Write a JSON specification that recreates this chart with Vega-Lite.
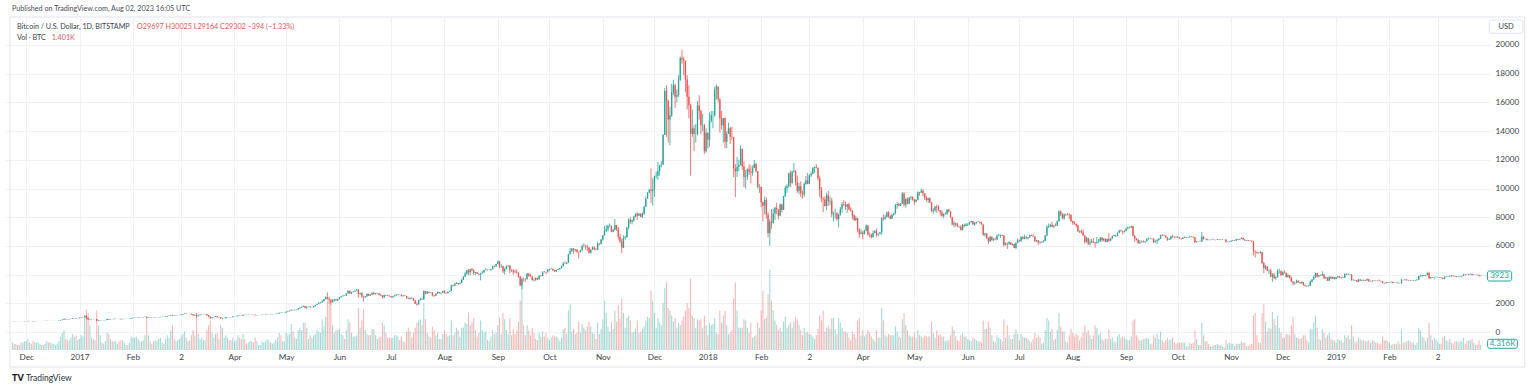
{
"$schema":"https://vega.github.io/schema/vega-lite/v6.json",
"width":1485,"height":333,"autosize":"none",
"padding":{"left":5,"top":17,"right":46,"bottom":38},
"background":"#ffffff",
"config":{"view":{"stroke":null},"font":"Lato","text":{"font":"Lato"},"axis":{"domain":false,"ticks":false,"labelFont":"Lato","labelFontSize":8.2,"labelColor":"#3b3f4a","gridColor":"#eef1f6","gridWidth":1}},
"datasets":{"btc":[
{"d":"2016-11-23","o":738,"h":748,"l":733,"c":741,"v":6},
{"d":"2016-11-24","o":741,"h":744,"l":728,"c":735,"v":5},
{"d":"2016-11-25","o":735,"h":742,"l":731,"c":740,"v":5},
{"d":"2016-11-26","o":740,"h":741,"l":728,"c":733,"v":4},
{"d":"2016-11-27","o":733,"h":738,"l":727,"c":730,"v":4},
{"d":"2016-11-28","o":730,"h":739,"l":729,"c":735,"v":6},
{"d":"2016-11-29","o":735,"h":738,"l":730,"c":733,"v":6},
{"d":"2016-11-30","o":733,"h":748,"l":732,"c":745,"v":7},
{"d":"2016-12-01","o":745,"h":757,"l":743,"c":755,"v":7},
{"d":"2016-12-02","o":755,"h":778,"l":753,"c":770,"v":9},
{"d":"2016-12-03","o":770,"h":772,"l":758,"c":765,"v":6},
{"d":"2016-12-04","o":765,"h":769,"l":760,"c":765,"v":5},
{"d":"2016-12-05","o":765,"h":767,"l":750,"c":755,"v":7},
{"d":"2016-12-06","o":755,"h":763,"l":753,"c":760,"v":6},
{"d":"2016-12-07","o":760,"h":768,"l":757,"c":765,"v":6},
{"d":"2016-12-08","o":765,"h":773,"l":762,"c":770,"v":6},
{"d":"2016-12-09","o":770,"h":774,"l":767,"c":771,"v":5},
{"d":"2016-12-10","o":771,"h":777,"l":769,"c":775,"v":4},
{"d":"2016-12-11","o":775,"h":777,"l":766,"c":770,"v":4},
{"d":"2016-12-12","o":770,"h":778,"l":768,"c":775,"v":5},
{"d":"2016-12-13","o":775,"h":786,"l":773,"c":780,"v":7},
{"d":"2016-12-14","o":780,"h":783,"l":773,"c":778,"v":6},
{"d":"2016-12-15","o":778,"h":782,"l":774,"c":780,"v":6},
{"d":"2016-12-16","o":780,"h":787,"l":778,"c":785,"v":5},
{"d":"2016-12-17","o":785,"h":793,"l":782,"c":790,"v":5},
{"d":"2016-12-18","o":790,"h":794,"l":786,"c":790,"v":4},
{"d":"2016-12-19","o":790,"h":795,"l":786,"c":792,"v":5},
{"d":"2016-12-20","o":792,"h":803,"l":790,"c":800,"v":7},
{"d":"2016-12-21","o":800,"h":835,"l":798,"c":830,"v":11},
{"d":"2016-12-22","o":830,"h":872,"l":826,"c":860,"v":14},
{"d":"2016-12-23","o":860,"h":925,"l":858,"c":915,"v":16},
{"d":"2016-12-24","o":915,"h":918,"l":882,"c":895,"v":9},
{"d":"2016-12-25","o":895,"h":900,"l":858,"c":890,"v":8},
{"d":"2016-12-26","o":890,"h":910,"l":885,"c":905,"v":8},
{"d":"2016-12-27","o":905,"h":935,"l":898,"c":925,"v":10},
{"d":"2016-12-28","o":925,"h":978,"l":922,"c":970,"v":13},
{"d":"2016-12-29","o":970,"h":978,"l":955,"c":970,"v":11},
{"d":"2016-12-30","o":970,"h":972,"l":920,"c":955,"v":12},
{"d":"2016-12-31","o":955,"h":968,"l":950,"c":965,"v":8},
{"d":"2017-01-01","o":965,"h":1002,"l":960,"c":998,"v":9},
{"d":"2017-01-02","o":998,"h":1030,"l":990,"c":1015,"v":12},
{"d":"2017-01-03","o":1015,"h":1035,"l":1008,"c":1030,"v":11},
{"d":"2017-01-04","o":1030,"h":1150,"l":1025,"c":1130,"v":28},
{"d":"2017-01-05","o":1130,"h":1140,"l":880,"c":990,"v":33},
{"d":"2017-01-06","o":990,"h":1000,"l":830,"c":890,"v":30},
{"d":"2017-01-07","o":890,"h":910,"l":820,"c":900,"v":20},
{"d":"2017-01-08","o":900,"h":935,"l":880,"c":910,"v":10},
{"d":"2017-01-09","o":910,"h":915,"l":878,"c":900,"v":9},
{"d":"2017-01-10","o":900,"h":912,"l":888,"c":905,"v":8},
{"d":"2017-01-11","o":905,"h":920,"l":750,"c":780,"v":32},
{"d":"2017-01-12","o":780,"h":815,"l":760,"c":810,"v":20},
{"d":"2017-01-13","o":810,"h":835,"l":795,"c":825,"v":12},
{"d":"2017-01-14","o":825,"h":835,"l":810,"c":820,"v":6},
{"d":"2017-01-15","o":820,"h":828,"l":808,"c":825,"v":5},
{"d":"2017-01-16","o":825,"h":835,"l":815,"c":830,"v":7},
{"d":"2017-01-17","o":830,"h":905,"l":828,"c":900,"v":14},
{"d":"2017-01-18","o":900,"h":910,"l":850,"c":870,"v":13},
{"d":"2017-01-19","o":870,"h":900,"l":865,"c":895,"v":9},
{"d":"2017-01-20","o":895,"h":897,"l":880,"c":890,"v":7},
{"d":"2017-01-21","o":890,"h":924,"l":888,"c":920,"v":7},
{"d":"2017-01-22","o":920,"h":935,"l":900,"c":920,"v":7},
{"d":"2017-01-23","o":920,"h":925,"l":910,"c":920,"v":5},
{"d":"2017-01-24","o":920,"h":922,"l":890,"c":915,"v":7},
{"d":"2017-01-25","o":915,"h":918,"l":882,"c":890,"v":8},
{"d":"2017-01-26","o":890,"h":918,"l":888,"c":915,"v":8},
{"d":"2017-01-27","o":915,"h":920,"l":905,"c":915,"v":6},
{"d":"2017-01-28","o":915,"h":923,"l":910,"c":920,"v":4},
{"d":"2017-01-29","o":920,"h":922,"l":910,"c":915,"v":4},
{"d":"2017-01-30","o":915,"h":925,"l":910,"c":920,"v":6},
{"d":"2017-01-31","o":920,"h":970,"l":918,"c":965,"v":11},
{"d":"2017-02-01","o":965,"h":990,"l":960,"c":985,"v":10},
{"d":"2017-02-02","o":985,"h":1010,"l":980,"c":1005,"v":10},
{"d":"2017-02-03","o":1005,"h":1020,"l":1000,"c":1015,"v":11},
{"d":"2017-02-04","o":1015,"h":1040,"l":1005,"c":1035,"v":9},
{"d":"2017-02-05","o":1035,"h":1037,"l":1005,"c":1015,"v":7},
{"d":"2017-02-06","o":1015,"h":1030,"l":1010,"c":1025,"v":7},
{"d":"2017-02-07","o":1025,"h":1050,"l":1020,"c":1045,"v":8},
{"d":"2017-02-08","o":1045,"h":1070,"l":1040,"c":1055,"v":12},
{"d":"2017-02-09","o":1055,"h":1065,"l":920,"c":980,"v":25},
{"d":"2017-02-10","o":980,"h":1005,"l":970,"c":1000,"v":12},
{"d":"2017-02-11","o":1000,"h":1015,"l":995,"c":1010,"v":7},
{"d":"2017-02-12","o":1010,"h":1012,"l":995,"c":1000,"v":5},
{"d":"2017-02-13","o":1000,"h":1005,"l":980,"c":995,"v":7},
{"d":"2017-02-14","o":995,"h":1015,"l":990,"c":1010,"v":8},
{"d":"2017-02-15","o":1010,"h":1013,"l":1002,"c":1010,"v":7},
{"d":"2017-02-16","o":1010,"h":1040,"l":1008,"c":1035,"v":9},
{"d":"2017-02-17","o":1035,"h":1055,"l":1030,"c":1050,"v":10},
{"d":"2017-02-18","o":1050,"h":1060,"l":1045,"c":1055,"v":6},
{"d":"2017-02-19","o":1055,"h":1058,"l":1040,"c":1050,"v":5},
{"d":"2017-02-20","o":1050,"h":1090,"l":1045,"c":1085,"v":9},
{"d":"2017-02-21","o":1085,"h":1125,"l":1080,"c":1120,"v":12},
{"d":"2017-02-22","o":1120,"h":1130,"l":1105,"c":1125,"v":10},
{"d":"2017-02-23","o":1125,"h":1180,"l":1120,"c":1175,"v":16},
{"d":"2017-02-24","o":1175,"h":1210,"l":1100,"c":1170,"v":20},
{"d":"2017-02-25","o":1170,"h":1175,"l":1130,"c":1150,"v":9},
{"d":"2017-02-26","o":1150,"h":1180,"l":1130,"c":1175,"v":7},
{"d":"2017-02-27","o":1175,"h":1195,"l":1170,"c":1190,"v":8},
{"d":"2017-02-28","o":1190,"h":1200,"l":1170,"c":1190,"v":9},
{"d":"2017-03-01","o":1190,"h":1230,"l":1185,"c":1225,"v":11},
{"d":"2017-03-02","o":1225,"h":1265,"l":1220,"c":1255,"v":13},
{"d":"2017-03-03","o":1255,"h":1295,"l":1250,"c":1285,"v":15},
{"d":"2017-03-04","o":1285,"h":1290,"l":1240,"c":1265,"v":10},
{"d":"2017-03-05","o":1265,"h":1275,"l":1245,"c":1270,"v":7},
{"d":"2017-03-06","o":1270,"h":1280,"l":1260,"c":1275,"v":8},
{"d":"2017-03-07","o":1275,"h":1280,"l":1195,"c":1235,"v":12},
{"d":"2017-03-08","o":1235,"h":1245,"l":1140,"c":1150,"v":16},
{"d":"2017-03-09","o":1150,"h":1200,"l":1145,"c":1195,"v":12},
{"d":"2017-03-10","o":1195,"h":1330,"l":980,"c":1110,"v":28},
{"d":"2017-03-11","o":1110,"h":1185,"l":1100,"c":1175,"v":13},
{"d":"2017-03-12","o":1175,"h":1230,"l":1170,"c":1225,"v":9},
{"d":"2017-03-13","o":1225,"h":1245,"l":1215,"c":1240,"v":10},
{"d":"2017-03-14","o":1240,"h":1250,"l":1230,"c":1245,"v":8},
{"d":"2017-03-15","o":1245,"h":1260,"l":1240,"c":1255,"v":8},
{"d":"2017-03-16","o":1255,"h":1260,"l":1150,"c":1175,"v":16},
{"d":"2017-03-17","o":1175,"h":1180,"l":1060,"c":1070,"v":20},
{"d":"2017-03-18","o":1070,"h":1080,"l":940,"c":965,"v":24},
{"d":"2017-03-19","o":965,"h":1035,"l":960,"c":1020,"v":14},
{"d":"2017-03-20","o":1020,"h":1050,"l":1015,"c":1045,"v":10},
{"d":"2017-03-21","o":1045,"h":1120,"l":1040,"c":1115,"v":13},
{"d":"2017-03-22","o":1115,"h":1118,"l":1000,"c":1040,"v":14},
{"d":"2017-03-23","o":1040,"h":1050,"l":1020,"c":1035,"v":9},
{"d":"2017-03-24","o":1035,"h":1040,"l":930,"c":935,"v":20},
{"d":"2017-03-25","o":935,"h":975,"l":890,"c":960,"v":18},
{"d":"2017-03-26","o":960,"h":1000,"l":950,"c":965,"v":10},
{"d":"2017-03-27","o":965,"h":1045,"l":960,"c":1040,"v":12},
{"d":"2017-03-28","o":1040,"h":1060,"l":1030,"c":1045,"v":10},
{"d":"2017-03-29","o":1045,"h":1055,"l":1020,"c":1040,"v":8},
{"d":"2017-03-30","o":1040,"h":1045,"l":1025,"c":1035,"v":8},
{"d":"2017-03-31","o":1035,"h":1085,"l":1030,"c":1080,"v":10},
{"d":"2017-04-01","o":1080,"h":1095,"l":1075,"c":1085,"v":7},
{"d":"2017-04-02","o":1085,"h":1105,"l":1080,"c":1095,"v":8},
{"d":"2017-04-03","o":1095,"h":1150,"l":1090,"c":1145,"v":12},
{"d":"2017-04-04","o":1145,"h":1160,"l":1125,"c":1140,"v":10},
{"d":"2017-04-05","o":1140,"h":1145,"l":1115,"c":1130,"v":9},
{"d":"2017-04-06","o":1130,"h":1200,"l":1128,"c":1195,"v":13},
{"d":"2017-04-07","o":1195,"h":1200,"l":1175,"c":1190,"v":9},
{"d":"2017-04-08","o":1190,"h":1195,"l":1170,"c":1180,"v":5},
{"d":"2017-04-09","o":1180,"h":1210,"l":1175,"c":1205,"v":6},
{"d":"2017-04-10","o":1205,"h":1212,"l":1195,"c":1205,"v":7},
{"d":"2017-04-11","o":1205,"h":1220,"l":1200,"c":1215,"v":7},
{"d":"2017-04-12","o":1215,"h":1218,"l":1200,"c":1205,"v":6},
{"d":"2017-04-13","o":1205,"h":1210,"l":1160,"c":1170,"v":10},
{"d":"2017-04-14","o":1170,"h":1185,"l":1165,"c":1180,"v":7},
{"d":"2017-04-15","o":1180,"h":1190,"l":1175,"c":1185,"v":4},
{"d":"2017-04-16","o":1185,"h":1188,"l":1178,"c":1185,"v":4},
{"d":"2017-04-17","o":1185,"h":1210,"l":1180,"c":1205,"v":7},
{"d":"2017-04-18","o":1205,"h":1215,"l":1200,"c":1210,"v":6},
{"d":"2017-04-19","o":1210,"h":1235,"l":1205,"c":1230,"v":7},
{"d":"2017-04-20","o":1230,"h":1260,"l":1225,"c":1255,"v":9},
{"d":"2017-04-21","o":1255,"h":1265,"l":1245,"c":1255,"v":8},
{"d":"2017-04-22","o":1255,"h":1260,"l":1230,"c":1245,"v":6},
{"d":"2017-04-23","o":1245,"h":1255,"l":1240,"c":1250,"v":5},
{"d":"2017-04-24","o":1250,"h":1255,"l":1240,"c":1250,"v":6},
{"d":"2017-04-25","o":1250,"h":1270,"l":1245,"c":1265,"v":8},
{"d":"2017-04-26","o":1265,"h":1300,"l":1260,"c":1285,"v":10},
{"d":"2017-04-27","o":1285,"h":1345,"l":1280,"c":1340,"v":14},
{"d":"2017-04-28","o":1340,"h":1350,"l":1305,"c":1330,"v":12},
{"d":"2017-04-29","o":1330,"h":1350,"l":1325,"c":1345,"v":7},
{"d":"2017-04-30","o":1345,"h":1360,"l":1335,"c":1350,"v":7},
{"d":"2017-05-01","o":1350,"h":1425,"l":1345,"c":1420,"v":14},
{"d":"2017-05-02","o":1420,"h":1460,"l":1410,"c":1450,"v":12},
{"d":"2017-05-03","o":1450,"h":1495,"l":1440,"c":1490,"v":13},
{"d":"2017-05-04","o":1490,"h":1590,"l":1480,"c":1515,"v":21},
{"d":"2017-05-05","o":1515,"h":1560,"l":1490,"c":1510,"v":15},
{"d":"2017-05-06","o":1510,"h":1550,"l":1505,"c":1545,"v":10},
{"d":"2017-05-07","o":1545,"h":1565,"l":1520,"c":1555,"v":9},
{"d":"2017-05-08","o":1555,"h":1650,"l":1550,"c":1640,"v":16},
{"d":"2017-05-09","o":1640,"h":1720,"l":1630,"c":1690,"v":18},
{"d":"2017-05-10","o":1690,"h":1770,"l":1680,"c":1760,"v":16},
{"d":"2017-05-11","o":1760,"h":1860,"l":1750,"c":1815,"v":22},
{"d":"2017-05-12","o":1815,"h":1820,"l":1660,"c":1690,"v":22},
{"d":"2017-05-13","o":1690,"h":1780,"l":1600,"c":1760,"v":18},
{"d":"2017-05-14","o":1760,"h":1790,"l":1750,"c":1780,"v":9},
{"d":"2017-05-15","o":1780,"h":1780,"l":1690,"c":1720,"v":12},
{"d":"2017-05-16","o":1720,"h":1745,"l":1700,"c":1730,"v":10},
{"d":"2017-05-17","o":1730,"h":1810,"l":1720,"c":1800,"v":12},
{"d":"2017-05-18","o":1800,"h":1885,"l":1790,"c":1880,"v":13},
{"d":"2017-05-19","o":1880,"h":1965,"l":1875,"c":1960,"v":16},
{"d":"2017-05-20","o":1960,"h":2050,"l":1955,"c":2040,"v":15},
{"d":"2017-05-21","o":2040,"h":2090,"l":1990,"c":2050,"v":14},
{"d":"2017-05-22","o":2050,"h":2240,"l":2040,"c":2150,"v":25},
{"d":"2017-05-23","o":2150,"h":2300,"l":2140,"c":2290,"v":19},
{"d":"2017-05-24","o":2290,"h":2480,"l":2280,"c":2430,"v":27},
{"d":"2017-05-25","o":2430,"h":2760,"l":2250,"c":2320,"v":40},
{"d":"2017-05-26","o":2320,"h":2450,"l":1950,"c":2250,"v":37},
{"d":"2017-05-27","o":2250,"h":2270,"l":1850,"c":2060,"v":36},
{"d":"2017-05-28","o":2060,"h":2290,"l":2050,"c":2200,"v":20},
{"d":"2017-05-29","o":2200,"h":2300,"l":2120,"c":2290,"v":14},
{"d":"2017-05-30","o":2290,"h":2300,"l":2180,"c":2200,"v":16},
{"d":"2017-05-31","o":2200,"h":2320,"l":2190,"c":2300,"v":16},
{"d":"2017-06-01","o":2300,"h":2440,"l":2290,"c":2420,"v":17},
{"d":"2017-06-02","o":2420,"h":2495,"l":2410,"c":2490,"v":13},
{"d":"2017-06-03","o":2490,"h":2560,"l":2470,"c":2540,"v":12},
{"d":"2017-06-04","o":2540,"h":2550,"l":2500,"c":2520,"v":9},
{"d":"2017-06-05","o":2520,"h":2700,"l":2510,"c":2690,"v":16},
{"d":"2017-06-06","o":2690,"h":2900,"l":2680,"c":2880,"v":25},
{"d":"2017-06-07","o":2880,"h":2890,"l":2660,"c":2690,"v":22},
{"d":"2017-06-08","o":2690,"h":2800,"l":2640,"c":2790,"v":14},
{"d":"2017-06-09","o":2790,"h":2830,"l":2760,"c":2820,"v":11},
{"d":"2017-06-10","o":2820,"h":2910,"l":2800,"c":2900,"v":11},
{"d":"2017-06-11","o":2900,"h":2980,"l":2880,"c":2960,"v":12},
{"d":"2017-06-12","o":2960,"h":2970,"l":2400,"c":2650,"v":34},
{"d":"2017-06-13","o":2650,"h":2740,"l":2590,"c":2700,"v":18},
{"d":"2017-06-14","o":2700,"h":2790,"l":2390,"c":2450,"v":24},
{"d":"2017-06-15","o":2450,"h":2500,"l":2120,"c":2430,"v":33},
{"d":"2017-06-16","o":2430,"h":2520,"l":2380,"c":2480,"v":16},
{"d":"2017-06-17","o":2480,"h":2675,"l":2460,"c":2660,"v":13},
{"d":"2017-06-18","o":2660,"h":2670,"l":2500,"c":2530,"v":12},
{"d":"2017-06-19","o":2530,"h":2620,"l":2520,"c":2600,"v":12},
{"d":"2017-06-20","o":2600,"h":2760,"l":2590,"c":2730,"v":17},
{"d":"2017-06-21","o":2730,"h":2770,"l":2600,"c":2640,"v":17},
{"d":"2017-06-22","o":2640,"h":2710,"l":2610,"c":2690,"v":12},
{"d":"2017-06-23","o":2690,"h":2730,"l":2680,"c":2700,"v":9},
{"d":"2017-06-24","o":2700,"h":2710,"l":2560,"c":2600,"v":10},
{"d":"2017-06-25","o":2600,"h":2630,"l":2500,"c":2540,"v":11},
{"d":"2017-06-26","o":2540,"h":2580,"l":2330,"c":2440,"v":22},
{"d":"2017-06-27","o":2440,"h":2590,"l":2350,"c":2580,"v":20},
{"d":"2017-06-28","o":2580,"h":2600,"l":2500,"c":2560,"v":14},
{"d":"2017-06-29","o":2560,"h":2580,"l":2510,"c":2530,"v":10},
{"d":"2017-06-30","o":2530,"h":2550,"l":2470,"c":2490,"v":10},
{"d":"2017-07-01","o":2490,"h":2510,"l":2400,"c":2420,"v":10},
{"d":"2017-07-02","o":2420,"h":2510,"l":2380,"c":2480,"v":10},
{"d":"2017-07-03","o":2480,"h":2570,"l":2470,"c":2550,"v":12},
{"d":"2017-07-04","o":2550,"h":2640,"l":2540,"c":2600,"v":12},
{"d":"2017-07-05","o":2600,"h":2630,"l":2550,"c":2610,"v":11},
{"d":"2017-07-06","o":2610,"h":2620,"l":2580,"c":2600,"v":8},
{"d":"2017-07-07","o":2600,"h":2610,"l":2480,"c":2500,"v":11},
{"d":"2017-07-08","o":2500,"h":2560,"l":2480,"c":2550,"v":7},
{"d":"2017-07-09","o":2550,"h":2560,"l":2500,"c":2510,"v":6},
{"d":"2017-07-10","o":2510,"h":2520,"l":2320,"c":2360,"v":15},
{"d":"2017-07-11","o":2360,"h":2420,"l":2290,"c":2320,"v":18},
{"d":"2017-07-12","o":2320,"h":2400,"l":2260,"c":2380,"v":15},
{"d":"2017-07-13","o":2380,"h":2420,"l":2330,"c":2340,"v":10},
{"d":"2017-07-14","o":2340,"h":2350,"l":2170,"c":2200,"v":14},
{"d":"2017-07-15","o":2200,"h":2220,"l":1950,"c":1960,"v":18},
{"d":"2017-07-16","o":1960,"h":2050,"l":1830,"c":1920,"v":22},
{"d":"2017-07-17","o":1920,"h":2240,"l":1910,"c":2230,"v":24},
{"d":"2017-07-18","o":2230,"h":2390,"l":2200,"c":2300,"v":25},
{"d":"2017-07-19","o":2300,"h":2400,"l":2250,"c":2270,"v":20},
{"d":"2017-07-20","o":2270,"h":2900,"l":2260,"c":2850,"v":38},
{"d":"2017-07-21","o":2850,"h":2860,"l":2620,"c":2670,"v":25},
{"d":"2017-07-22","o":2670,"h":2850,"l":2650,"c":2800,"v":14},
{"d":"2017-07-23","o":2800,"h":2810,"l":2700,"c":2740,"v":11},
{"d":"2017-07-24","o":2740,"h":2780,"l":2700,"c":2750,"v":10},
{"d":"2017-07-25","o":2750,"h":2770,"l":2480,"c":2560,"v":19},
{"d":"2017-07-26","o":2560,"h":2600,"l":2450,"c":2530,"v":16},
{"d":"2017-07-27","o":2530,"h":2680,"l":2520,"c":2660,"v":12},
{"d":"2017-07-28","o":2660,"h":2810,"l":2650,"c":2780,"v":14},
{"d":"2017-07-29","o":2780,"h":2790,"l":2680,"c":2700,"v":9},
{"d":"2017-07-30","o":2700,"h":2760,"l":2620,"c":2740,"v":9},
{"d":"2017-07-31","o":2740,"h":2880,"l":2730,"c":2860,"v":13},
{"d":"2017-08-01","o":2860,"h":2920,"l":2680,"c":2710,"v":16},
{"d":"2017-08-02","o":2710,"h":2760,"l":2660,"c":2700,"v":13},
{"d":"2017-08-03","o":2700,"h":2810,"l":2690,"c":2800,"v":11},
{"d":"2017-08-04","o":2800,"h":2880,"l":2780,"c":2860,"v":12},
{"d":"2017-08-05","o":2860,"h":3300,"l":2850,"c":3250,"v":24},
{"d":"2017-08-06","o":3250,"h":3280,"l":3170,"c":3220,"v":12},
{"d":"2017-08-07","o":3220,"h":3400,"l":3200,"c":3380,"v":14},
{"d":"2017-08-08","o":3380,"h":3480,"l":3350,"c":3420,"v":18},
{"d":"2017-08-09","o":3420,"h":3430,"l":3270,"c":3340,"v":16},
{"d":"2017-08-10","o":3340,"h":3440,"l":3320,"c":3420,"v":11},
{"d":"2017-08-11","o":3420,"h":3680,"l":3410,"c":3640,"v":18},
{"d":"2017-08-12","o":3640,"h":3900,"l":3620,"c":3850,"v":18},
{"d":"2017-08-13","o":3850,"h":4190,"l":3840,"c":4060,"v":22},
{"d":"2017-08-14","o":4060,"h":4320,"l":3990,"c":4300,"v":21},
{"d":"2017-08-15","o":4300,"h":4390,"l":3950,"c":4160,"v":30},
{"d":"2017-08-16","o":4160,"h":4380,"l":3950,"c":4370,"v":20},
{"d":"2017-08-17","o":4370,"h":4480,"l":4270,"c":4280,"v":22},
{"d":"2017-08-18","o":4280,"h":4370,"l":3980,"c":4110,"v":26},
{"d":"2017-08-19","o":4110,"h":4190,"l":3950,"c":4160,"v":16},
{"d":"2017-08-20","o":4160,"h":4180,"l":4040,"c":4060,"v":11},
{"d":"2017-08-21","o":4060,"h":4080,"l":3960,"c":4000,"v":14},
{"d":"2017-08-22","o":4000,"h":4130,"l":3600,"c":4090,"v":24},
{"d":"2017-08-23","o":4090,"h":4250,"l":4080,"c":4140,"v":16},
{"d":"2017-08-24","o":4140,"h":4340,"l":4130,"c":4320,"v":14},
{"d":"2017-08-25","o":4320,"h":4450,"l":4300,"c":4350,"v":15},
{"d":"2017-08-26","o":4350,"h":4370,"l":4290,"c":4340,"v":8},
{"d":"2017-08-27","o":4340,"h":4390,"l":4320,"c":4340,"v":7},
{"d":"2017-08-28","o":4340,"h":4400,"l":4250,"c":4380,"v":11},
{"d":"2017-08-29","o":4380,"h":4630,"l":4340,"c":4590,"v":16},
{"d":"2017-08-30","o":4590,"h":4640,"l":4500,"c":4570,"v":13},
{"d":"2017-08-31","o":4570,"h":4760,"l":4560,"c":4740,"v":14},
{"d":"2017-09-01","o":4740,"h":4980,"l":4730,"c":4920,"v":20},
{"d":"2017-09-02","o":4920,"h":4940,"l":4450,"c":4580,"v":26},
{"d":"2017-09-03","o":4580,"h":4720,"l":4480,"c":4600,"v":13},
{"d":"2017-09-04","o":4600,"h":4610,"l":4100,"c":4230,"v":30},
{"d":"2017-09-05","o":4230,"h":4480,"l":4000,"c":4380,"v":25},
{"d":"2017-09-06","o":4380,"h":4640,"l":4370,"c":4600,"v":16},
{"d":"2017-09-07","o":4600,"h":4680,"l":4520,"c":4620,"v":13},
{"d":"2017-09-08","o":4620,"h":4670,"l":4080,"c":4310,"v":26},
{"d":"2017-09-09","o":4310,"h":4370,"l":4180,"c":4330,"v":12},
{"d":"2017-09-10","o":4330,"h":4340,"l":3980,"c":4210,"v":17},
{"d":"2017-09-11","o":4210,"h":4330,"l":4110,"c":4180,"v":13},
{"d":"2017-09-12","o":4180,"h":4380,"l":4070,"c":4140,"v":16},
{"d":"2017-09-13","o":4140,"h":4140,"l":3780,"c":3860,"v":23},
{"d":"2017-09-14","o":3860,"h":3900,"l":3200,"c":3240,"v":40},
{"d":"2017-09-15","o":3240,"h":3800,"l":2980,"c":3700,"v":52},
{"d":"2017-09-16","o":3700,"h":3800,"l":3510,"c":3690,"v":20},
{"d":"2017-09-17","o":3690,"h":3750,"l":3480,"c":3680,"v":12},
{"d":"2017-09-18","o":3680,"h":4100,"l":3670,"c":4080,"v":20},
{"d":"2017-09-19","o":4080,"h":4100,"l":3840,"c":3900,"v":16},
{"d":"2017-09-20","o":3900,"h":4040,"l":3850,"c":3870,"v":12},
{"d":"2017-09-21","o":3870,"h":3890,"l":3580,"c":3620,"v":18},
{"d":"2017-09-22","o":3620,"h":3750,"l":3520,"c":3600,"v":14},
{"d":"2017-09-23","o":3600,"h":3800,"l":3580,"c":3780,"v":9},
{"d":"2017-09-24","o":3780,"h":3780,"l":3630,"c":3660,"v":8},
{"d":"2017-09-25","o":3660,"h":3950,"l":3660,"c":3920,"v":14},
{"d":"2017-09-26","o":3920,"h":3970,"l":3870,"c":3900,"v":11},
{"d":"2017-09-27","o":3900,"h":4220,"l":3900,"c":4200,"v":15},
{"d":"2017-09-28","o":4200,"h":4250,"l":4140,"c":4180,"v":11},
{"d":"2017-09-29","o":4180,"h":4200,"l":4030,"c":4160,"v":14},
{"d":"2017-09-30","o":4160,"h":4360,"l":4150,"c":4340,"v":10},
{"d":"2017-10-01","o":4340,"h":4400,"l":4290,"c":4390,"v":8},
{"d":"2017-10-02","o":4390,"h":4470,"l":4370,"c":4400,"v":10},
{"d":"2017-10-03","o":4400,"h":4420,"l":4250,"c":4310,"v":12},
{"d":"2017-10-04","o":4310,"h":4340,"l":4180,"c":4220,"v":11},
{"d":"2017-10-05","o":4220,"h":4350,"l":4170,"c":4320,"v":11},
{"d":"2017-10-06","o":4320,"h":4420,"l":4310,"c":4370,"v":10},
{"d":"2017-10-07","o":4370,"h":4460,"l":4340,"c":4440,"v":7},
{"d":"2017-10-08","o":4440,"h":4620,"l":4430,"c":4600,"v":10},
{"d":"2017-10-09","o":4600,"h":4880,"l":4560,"c":4770,"v":17},
{"d":"2017-10-10","o":4770,"h":4920,"l":4730,"c":4760,"v":18},
{"d":"2017-10-11","o":4760,"h":4870,"l":4730,"c":4830,"v":13},
{"d":"2017-10-12","o":4830,"h":5450,"l":4820,"c":5430,"v":32},
{"d":"2017-10-13","o":5430,"h":5850,"l":5380,"c":5650,"v":37},
{"d":"2017-10-14","o":5650,"h":5840,"l":5560,"c":5820,"v":15},
{"d":"2017-10-15","o":5820,"h":5850,"l":5450,"c":5700,"v":17},
{"d":"2017-10-16","o":5700,"h":5780,"l":5600,"c":5750,"v":13},
{"d":"2017-10-17","o":5750,"h":5760,"l":5500,"c":5600,"v":14},
{"d":"2017-10-18","o":5600,"h":5600,"l":5130,"c":5570,"v":23},
{"d":"2017-10-19","o":5570,"h":5730,"l":5540,"c":5710,"v":14},
{"d":"2017-10-20","o":5710,"h":6080,"l":5620,"c":6000,"v":21},
{"d":"2017-10-21","o":6000,"h":6190,"l":5900,"c":6010,"v":18},
{"d":"2017-10-22","o":6010,"h":6060,"l":5730,"c":5980,"v":16},
{"d":"2017-10-23","o":5980,"h":6050,"l":5650,"c":5900,"v":19},
{"d":"2017-10-24","o":5900,"h":5900,"l":5480,"c":5520,"v":23},
{"d":"2017-10-25","o":5520,"h":5760,"l":5450,"c":5740,"v":19},
{"d":"2017-10-26","o":5740,"h":5970,"l":5720,"c":5890,"v":14},
{"d":"2017-10-27","o":5890,"h":5990,"l":5700,"c":5770,"v":13},
{"d":"2017-10-28","o":5770,"h":5850,"l":5690,"c":5750,"v":9},
{"d":"2017-10-29","o":5750,"h":6300,"l":5700,"c":6150,"v":22},
{"d":"2017-10-30","o":6150,"h":6200,"l":6040,"c":6130,"v":13},
{"d":"2017-10-31","o":6130,"h":6470,"l":6110,"c":6450,"v":17},
{"d":"2017-11-01","o":6450,"h":6760,"l":6360,"c":6740,"v":25},
{"d":"2017-11-02","o":6740,"h":7400,"l":6720,"c":7030,"v":40},
{"d":"2017-11-03","o":7030,"h":7440,"l":6970,"c":7160,"v":30},
{"d":"2017-11-04","o":7160,"h":7490,"l":7000,"c":7380,"v":19},
{"d":"2017-11-05","o":7380,"h":7560,"l":7290,"c":7400,"v":15},
{"d":"2017-11-06","o":7400,"h":7420,"l":6960,"c":6990,"v":23},
{"d":"2017-11-07","o":6990,"h":7200,"l":6950,"c":7120,"v":17},
{"d":"2017-11-08","o":7120,"h":7880,"l":7080,"c":7460,"v":32},
{"d":"2017-11-09","o":7460,"h":7460,"l":7040,"c":7140,"v":23},
{"d":"2017-11-10","o":7140,"h":7310,"l":6440,"c":6620,"v":36},
{"d":"2017-11-11","o":6620,"h":6840,"l":6200,"c":6300,"v":25},
{"d":"2017-11-12","o":6300,"h":6500,"l":5500,"c":5880,"v":42},
{"d":"2017-11-13","o":5880,"h":6740,"l":5850,"c":6550,"v":30},
{"d":"2017-11-14","o":6550,"h":6710,"l":6430,"c":6600,"v":18},
{"d":"2017-11-15","o":6600,"h":7330,"l":6590,"c":7290,"v":26},
{"d":"2017-11-16","o":7290,"h":7920,"l":7140,"c":7820,"v":28},
{"d":"2017-11-17","o":7820,"h":8000,"l":7540,"c":7690,"v":24},
{"d":"2017-11-18","o":7690,"h":7850,"l":7500,"c":7780,"v":14},
{"d":"2017-11-19","o":7780,"h":8100,"l":7680,"c":8030,"v":15},
{"d":"2017-11-20","o":8030,"h":8280,"l":7990,"c":8230,"v":17},
{"d":"2017-11-21","o":8230,"h":8360,"l":7810,"c":8100,"v":24},
{"d":"2017-11-22","o":8100,"h":8290,"l":8100,"c":8240,"v":14},
{"d":"2017-11-23","o":8240,"h":8270,"l":8000,"c":8040,"v":15},
{"d":"2017-11-24","o":8040,"h":8340,"l":7940,"c":8240,"v":17},
{"d":"2017-11-25","o":8240,"h":8770,"l":8150,"c":8750,"v":19},
{"d":"2017-11-26","o":8750,"h":9440,"l":8720,"c":9290,"v":24},
{"d":"2017-11-27","o":9290,"h":9750,"l":9290,"c":9700,"v":27},
{"d":"2017-11-28","o":9700,"h":9990,"l":9680,"c":9900,"v":26},
{"d":"2017-11-29","o":9900,"h":11400,"l":9000,"c":9850,"v":48},
{"d":"2017-11-30","o":9850,"h":10700,"l":8800,"c":9950,"v":40},
{"d":"2017-12-01","o":9950,"h":10900,"l":9420,"c":10850,"v":30},
{"d":"2017-12-02","o":10850,"h":11170,"l":10690,"c":10890,"v":18},
{"d":"2017-12-03","o":10890,"h":11850,"l":10600,"c":11220,"v":26},
{"d":"2017-12-04","o":11220,"h":11630,"l":10900,"c":11620,"v":22},
{"d":"2017-12-05","o":11620,"h":11900,"l":11480,"c":11650,"v":20},
{"d":"2017-12-06","o":11650,"h":13800,"l":11650,"c":13720,"v":38},
{"d":"2017-12-07","o":13720,"h":17000,"l":13720,"c":16800,"v":50},
{"d":"2017-12-08","o":16800,"h":17200,"l":13600,"c":16100,"v":55},
{"d":"2017-12-09","o":16100,"h":16200,"l":13200,"c":14800,"v":34},
{"d":"2017-12-10","o":14800,"h":15700,"l":13000,"c":15100,"v":32},
{"d":"2017-12-11","o":15100,"h":17300,"l":15000,"c":16700,"v":28},
{"d":"2017-12-12","o":16700,"h":17550,"l":16500,"c":17200,"v":23},
{"d":"2017-12-13","o":17200,"h":17300,"l":15600,"c":16400,"v":26},
{"d":"2017-12-14","o":16400,"h":16900,"l":16000,"c":16500,"v":18},
{"d":"2017-12-15","o":16500,"h":17900,"l":16400,"c":17600,"v":22},
{"d":"2017-12-16","o":17600,"h":19200,"l":17500,"c":19100,"v":20},
{"d":"2017-12-17","o":19100,"h":19666,"l":18700,"c":19000,"v":24},
{"d":"2017-12-18","o":19000,"h":19200,"l":17900,"c":18900,"v":27},
{"d":"2017-12-19","o":18900,"h":18900,"l":16700,"c":17600,"v":32},
{"d":"2017-12-20","o":17600,"h":17900,"l":15500,"c":16400,"v":38},
{"d":"2017-12-21","o":16400,"h":17200,"l":14900,"c":15800,"v":34},
{"d":"2017-12-22","o":15800,"h":15900,"l":10900,"c":13800,"v":58},
{"d":"2017-12-23","o":13800,"h":15500,"l":13600,"c":14200,"v":28},
{"d":"2017-12-24","o":14200,"h":14400,"l":12600,"c":13800,"v":26},
{"d":"2017-12-25","o":13800,"h":14500,"l":13200,"c":13800,"v":18},
{"d":"2017-12-26","o":13800,"h":16100,"l":13700,"c":15800,"v":25},
{"d":"2017-12-27","o":15800,"h":16500,"l":14800,"c":15400,"v":24},
{"d":"2017-12-28","o":15400,"h":15500,"l":13800,"c":14400,"v":25},
{"d":"2017-12-29","o":14400,"h":15200,"l":14000,"c":14400,"v":18},
{"d":"2017-12-30","o":14400,"h":14500,"l":12400,"c":12600,"v":28},
{"d":"2017-12-31","o":12600,"h":14200,"l":12500,"c":13880,"v":20},
{"d":"2018-01-01","o":13880,"h":13900,"l":12800,"c":13400,"v":12},
{"d":"2018-01-02","o":13400,"h":15300,"l":12900,"c":14700,"v":22},
{"d":"2018-01-03","o":14700,"h":15400,"l":14600,"c":15100,"v":20},
{"d":"2018-01-04","o":15100,"h":15400,"l":14200,"c":15100,"v":21},
{"d":"2018-01-05","o":15100,"h":17100,"l":15000,"c":16900,"v":26},
{"d":"2018-01-06","o":16900,"h":17250,"l":16200,"c":17100,"v":14},
{"d":"2018-01-07","o":17100,"h":17100,"l":16000,"c":16200,"v":13},
{"d":"2018-01-08","o":16200,"h":16300,"l":13900,"c":14900,"v":32},
{"d":"2018-01-09","o":14900,"h":15400,"l":14100,"c":14400,"v":22},
{"d":"2018-01-10","o":14400,"h":14900,"l":13200,"c":14900,"v":28},
{"d":"2018-01-11","o":14900,"h":14950,"l":12800,"c":13250,"v":32},
{"d":"2018-01-12","o":13250,"h":14000,"l":12800,"c":13800,"v":20},
{"d":"2018-01-13","o":13800,"h":14600,"l":13800,"c":14200,"v":13},
{"d":"2018-01-14","o":14200,"h":14300,"l":13100,"c":13600,"v":14},
{"d":"2018-01-15","o":13600,"h":14300,"l":13400,"c":13580,"v":16},
{"d":"2018-01-16","o":13580,"h":13600,"l":10800,"c":11400,"v":42},
{"d":"2018-01-17","o":11400,"h":11700,"l":9400,"c":11200,"v":55},
{"d":"2018-01-18","o":11200,"h":12200,"l":10800,"c":11500,"v":32},
{"d":"2018-01-19","o":11500,"h":12000,"l":11200,"c":11650,"v":18},
{"d":"2018-01-20","o":11650,"h":13000,"l":11600,"c":12750,"v":18},
{"d":"2018-01-21","o":12750,"h":12780,"l":11300,"c":11530,"v":18},
{"d":"2018-01-22","o":11530,"h":11900,"l":10100,"c":10800,"v":25},
{"d":"2018-01-23","o":10800,"h":11300,"l":10000,"c":10830,"v":24},
{"d":"2018-01-24","o":10830,"h":11400,"l":10600,"c":11350,"v":18},
{"d":"2018-01-25","o":11350,"h":11700,"l":10950,"c":11170,"v":14},
{"d":"2018-01-26","o":11170,"h":11600,"l":10350,"c":11100,"v":22},
{"d":"2018-01-27","o":11100,"h":11600,"l":10900,"c":11420,"v":10},
{"d":"2018-01-28","o":11420,"h":12000,"l":11420,"c":11700,"v":11},
{"d":"2018-01-29","o":11700,"h":11800,"l":11100,"c":11200,"v":12},
{"d":"2018-01-30","o":11200,"h":11200,"l":10000,"c":10100,"v":22},
{"d":"2018-01-31","o":10100,"h":10300,"l":9700,"c":10100,"v":18},
{"d":"2018-02-01","o":10100,"h":10150,"l":8700,"c":9050,"v":32},
{"d":"2018-02-02","o":9050,"h":9100,"l":7700,"c":8800,"v":48},
{"d":"2018-02-03","o":8800,"h":9450,"l":8200,"c":9200,"v":25},
{"d":"2018-02-04","o":9200,"h":9370,"l":7900,"c":8170,"v":26},
{"d":"2018-02-05","o":8170,"h":8350,"l":6600,"c":6900,"v":45},
{"d":"2018-02-06","o":6900,"h":7880,"l":6000,"c":7700,"v":65},
{"d":"2018-02-07","o":7700,"h":8580,"l":7200,"c":7600,"v":40},
{"d":"2018-02-08","o":7600,"h":8600,"l":7550,"c":8260,"v":32},
{"d":"2018-02-09","o":8260,"h":8730,"l":7800,"c":8650,"v":24},
{"d":"2018-02-10","o":8650,"h":9000,"l":8200,"c":8530,"v":20},
{"d":"2018-02-11","o":8530,"h":8550,"l":7850,"c":8100,"v":16},
{"d":"2018-02-12","o":8100,"h":8950,"l":8100,"c":8880,"v":18},
{"d":"2018-02-13","o":8880,"h":8950,"l":8350,"c":8500,"v":15},
{"d":"2018-02-14","o":8500,"h":9490,"l":8500,"c":9480,"v":23},
{"d":"2018-02-15","o":9480,"h":10200,"l":9400,"c":10030,"v":27},
{"d":"2018-02-16","o":10030,"h":10300,"l":9700,"c":10170,"v":18},
{"d":"2018-02-17","o":10170,"h":11100,"l":10050,"c":11060,"v":20},
{"d":"2018-02-18","o":11060,"h":11250,"l":10100,"c":10380,"v":22},
{"d":"2018-02-19","o":10380,"h":11270,"l":10300,"c":11150,"v":18},
{"d":"2018-02-20","o":11150,"h":11780,"l":11100,"c":11200,"v":23},
{"d":"2018-02-21","o":11200,"h":11300,"l":10200,"c":10460,"v":27},
{"d":"2018-02-22","o":10460,"h":10900,"l":9700,"c":9830,"v":25},
{"d":"2018-02-23","o":9830,"h":10400,"l":9600,"c":10150,"v":20},
{"d":"2018-02-24","o":10150,"h":10500,"l":9400,"c":9670,"v":16},
{"d":"2018-02-25","o":9670,"h":9850,"l":9300,"c":9590,"v":12},
{"d":"2018-02-26","o":9590,"h":10450,"l":9400,"c":10310,"v":18},
{"d":"2018-02-27","o":10310,"h":10870,"l":10250,"c":10570,"v":14},
{"d":"2018-02-28","o":10570,"h":11080,"l":10300,"c":10330,"v":15},
{"d":"2018-03-01","o":10330,"h":11000,"l":10300,"c":10900,"v":13},
{"d":"2018-03-02","o":10900,"h":11180,"l":10800,"c":11020,"v":12},
{"d":"2018-03-03","o":11020,"h":11500,"l":11000,"c":11430,"v":11},
{"d":"2018-03-04","o":11430,"h":11550,"l":11080,"c":11500,"v":9},
{"d":"2018-03-05","o":11500,"h":11700,"l":11400,"c":11450,"v":12},
{"d":"2018-03-06","o":11450,"h":11450,"l":10560,"c":10710,"v":17},
{"d":"2018-03-07","o":10710,"h":10900,"l":9400,"c":9900,"v":28},
{"d":"2018-03-08","o":9900,"h":10100,"l":9050,"c":9280,"v":24},
{"d":"2018-03-09","o":9280,"h":9400,"l":8350,"c":9230,"v":32},
{"d":"2018-03-10","o":9230,"h":9450,"l":8750,"c":8780,"v":15},
{"d":"2018-03-11","o":8780,"h":9700,"l":8500,"c":9530,"v":18},
{"d":"2018-03-12","o":9530,"h":9850,"l":8780,"c":9120,"v":20},
{"d":"2018-03-13","o":9120,"h":9450,"l":8850,"c":9150,"v":17},
{"d":"2018-03-14","o":9150,"h":9350,"l":8000,"c":8200,"v":26},
{"d":"2018-03-15","o":8200,"h":8400,"l":7700,"c":8260,"v":26},
{"d":"2018-03-16","o":8260,"h":8600,"l":7900,"c":8270,"v":17},
{"d":"2018-03-17","o":8270,"h":8350,"l":7750,"c":7870,"v":13},
{"d":"2018-03-18","o":7870,"h":8250,"l":7300,"c":8200,"v":26},
{"d":"2018-03-19","o":8200,"h":8700,"l":8100,"c":8590,"v":22},
{"d":"2018-03-20","o":8590,"h":9050,"l":8300,"c":8900,"v":18},
{"d":"2018-03-21","o":8900,"h":9180,"l":8770,"c":8890,"v":15},
{"d":"2018-03-22","o":8890,"h":9100,"l":8500,"c":8720,"v":15},
{"d":"2018-03-23","o":8720,"h":8920,"l":8300,"c":8900,"v":14},
{"d":"2018-03-24","o":8900,"h":9000,"l":8500,"c":8530,"v":10},
{"d":"2018-03-25","o":8530,"h":8700,"l":8400,"c":8450,"v":8},
{"d":"2018-03-26","o":8450,"h":8500,"l":7850,"c":8130,"v":15},
{"d":"2018-03-27","o":8130,"h":8200,"l":7750,"c":7790,"v":13},
{"d":"2018-03-28","o":7790,"h":8100,"l":7750,"c":7950,"v":10},
{"d":"2018-03-29","o":7950,"h":7950,"l":6950,"c":7100,"v":24},
{"d":"2018-03-30","o":7100,"h":7250,"l":6550,"c":6850,"v":26},
{"d":"2018-03-31","o":6850,"h":7200,"l":6800,"c":6930,"v":12},
{"d":"2018-04-01","o":6930,"h":7050,"l":6450,"c":6820,"v":16},
{"d":"2018-04-02","o":6820,"h":7120,"l":6800,"c":7070,"v":11},
{"d":"2018-04-03","o":7070,"h":7500,"l":7030,"c":7420,"v":13},
{"d":"2018-04-04","o":7420,"h":7430,"l":6720,"c":6790,"v":16},
{"d":"2018-04-05","o":6790,"h":6930,"l":6600,"c":6780,"v":14},
{"d":"2018-04-06","o":6780,"h":6850,"l":6520,"c":6610,"v":11},
{"d":"2018-04-07","o":6610,"h":7070,"l":6600,"c":6900,"v":9},
{"d":"2018-04-08","o":6900,"h":7100,"l":6880,"c":7020,"v":7},
{"d":"2018-04-09","o":7020,"h":7190,"l":6630,"c":6770,"v":16},
{"d":"2018-04-10","o":6770,"h":6870,"l":6680,"c":6840,"v":10},
{"d":"2018-04-11","o":6840,"h":6970,"l":6810,"c":6950,"v":10},
{"d":"2018-04-12","o":6950,"h":8000,"l":6770,"c":7920,"v":34},
{"d":"2018-04-13","o":7920,"h":8200,"l":7760,"c":7880,"v":24},
{"d":"2018-04-14","o":7880,"h":8180,"l":7830,"c":8000,"v":12},
{"d":"2018-04-15","o":8000,"h":8390,"l":8000,"c":8350,"v":11},
{"d":"2018-04-16","o":8350,"h":8420,"l":7960,"c":8060,"v":13},
{"d":"2018-04-17","o":8060,"h":8150,"l":7850,"c":7890,"v":12},
{"d":"2018-04-18","o":7890,"h":8230,"l":7880,"c":8170,"v":12},
{"d":"2018-04-19","o":8170,"h":8300,"l":8100,"c":8270,"v":12},
{"d":"2018-04-20","o":8270,"h":8920,"l":8200,"c":8850,"v":19},
{"d":"2018-04-21","o":8850,"h":9030,"l":8580,"c":8920,"v":15},
{"d":"2018-04-22","o":8920,"h":9020,"l":8760,"c":8800,"v":11},
{"d":"2018-04-23","o":8800,"h":8990,"l":8790,"c":8940,"v":10},
{"d":"2018-04-24","o":8940,"h":9740,"l":8930,"c":9650,"v":25},
{"d":"2018-04-25","o":9650,"h":9750,"l":8750,"c":8870,"v":30},
{"d":"2018-04-26","o":8870,"h":9300,"l":8660,"c":9280,"v":20},
{"d":"2018-04-27","o":9280,"h":9380,"l":8900,"c":8940,"v":16},
{"d":"2018-04-28","o":8940,"h":9400,"l":8920,"c":9350,"v":12},
{"d":"2018-04-29","o":9350,"h":9500,"l":9200,"c":9400,"v":11},
{"d":"2018-04-30","o":9400,"h":9450,"l":9150,"c":9240,"v":11},
{"d":"2018-05-01","o":9240,"h":9250,"l":8850,"c":9070,"v":14},
{"d":"2018-05-02","o":9070,"h":9250,"l":9030,"c":9220,"v":10},
{"d":"2018-05-03","o":9220,"h":9800,"l":9170,"c":9740,"v":16},
{"d":"2018-05-04","o":9740,"h":9760,"l":9500,"c":9700,"v":12},
{"d":"2018-05-05","o":9700,"h":9990,"l":9700,"c":9850,"v":11},
{"d":"2018-05-06","o":9850,"h":9950,"l":9450,"c":9650,"v":10},
{"d":"2018-05-07","o":9650,"h":9660,"l":9200,"c":9370,"v":12},
{"d":"2018-05-08","o":9370,"h":9480,"l":9100,"c":9190,"v":11},
{"d":"2018-05-09","o":9190,"h":9370,"l":8990,"c":9320,"v":11},
{"d":"2018-05-10","o":9320,"h":9380,"l":9000,"c":9030,"v":11},
{"d":"2018-05-11","o":9030,"h":9030,"l":8350,"c":8440,"v":23},
{"d":"2018-05-12","o":8440,"h":8630,"l":8230,"c":8490,"v":14},
{"d":"2018-05-13","o":8490,"h":8790,"l":8360,"c":8720,"v":10},
{"d":"2018-05-14","o":8720,"h":8880,"l":8300,"c":8680,"v":16},
{"d":"2018-05-15","o":8680,"h":8850,"l":8450,"c":8490,"v":12},
{"d":"2018-05-16","o":8490,"h":8500,"l":8120,"c":8340,"v":13},
{"d":"2018-05-17","o":8340,"h":8480,"l":8040,"c":8060,"v":11},
{"d":"2018-05-18","o":8060,"h":8270,"l":7950,"c":8230,"v":11},
{"d":"2018-05-19","o":8230,"h":8380,"l":8170,"c":8230,"v":7},
{"d":"2018-05-20","o":8230,"h":8560,"l":8170,"c":8530,"v":8},
{"d":"2018-05-21","o":8530,"h":8570,"l":8350,"c":8400,"v":8},
{"d":"2018-05-22","o":8400,"h":8400,"l":7960,"c":7990,"v":12},
{"d":"2018-05-23","o":7990,"h":8030,"l":7440,"c":7500,"v":19},
{"d":"2018-05-24","o":7500,"h":7730,"l":7280,"c":7580,"v":16},
{"d":"2018-05-25","o":7580,"h":7630,"l":7350,"c":7470,"v":11},
{"d":"2018-05-26","o":7470,"h":7620,"l":7320,"c":7350,"v":8},
{"d":"2018-05-27","o":7350,"h":7390,"l":7260,"c":7340,"v":7},
{"d":"2018-05-28","o":7340,"h":7440,"l":7070,"c":7110,"v":12},
{"d":"2018-05-29","o":7110,"h":7530,"l":7070,"c":7460,"v":14},
{"d":"2018-05-30","o":7460,"h":7550,"l":7300,"c":7390,"v":11},
{"d":"2018-05-31","o":7390,"h":7590,"l":7380,"c":7490,"v":11},
{"d":"2018-06-01","o":7490,"h":7580,"l":7380,"c":7520,"v":9},
{"d":"2018-06-02","o":7520,"h":7680,"l":7460,"c":7640,"v":8},
{"d":"2018-06-03","o":7640,"h":7760,"l":7620,"c":7710,"v":7},
{"d":"2018-06-04","o":7710,"h":7740,"l":7470,"c":7490,"v":10},
{"d":"2018-06-05","o":7490,"h":7660,"l":7390,"c":7620,"v":9},
{"d":"2018-06-06","o":7620,"h":7690,"l":7510,"c":7660,"v":8},
{"d":"2018-06-07","o":7660,"h":7750,"l":7650,"c":7690,"v":7},
{"d":"2018-06-08","o":7690,"h":7700,"l":7560,"c":7620,"v":7},
{"d":"2018-06-09","o":7620,"h":7680,"l":7480,"c":7500,"v":6},
{"d":"2018-06-10","o":7500,"h":7500,"l":6700,"c":6780,"v":24},
{"d":"2018-06-11","o":6780,"h":6900,"l":6640,"c":6870,"v":17},
{"d":"2018-06-12","o":6870,"h":6880,"l":6460,"c":6550,"v":17},
{"d":"2018-06-13","o":6550,"h":6610,"l":6120,"c":6300,"v":23},
{"d":"2018-06-14","o":6300,"h":6700,"l":6290,"c":6640,"v":18},
{"d":"2018-06-15","o":6640,"h":6650,"l":6380,"c":6400,"v":12},
{"d":"2018-06-16","o":6400,"h":6550,"l":6330,"c":6480,"v":7},
{"d":"2018-06-17","o":6480,"h":6580,"l":6440,"c":6450,"v":6},
{"d":"2018-06-18","o":6450,"h":6810,"l":6380,"c":6710,"v":12},
{"d":"2018-06-19","o":6710,"h":6840,"l":6680,"c":6740,"v":10},
{"d":"2018-06-20","o":6740,"h":6800,"l":6560,"c":6760,"v":9},
{"d":"2018-06-21","o":6760,"h":6790,"l":6680,"c":6720,"v":7},
{"d":"2018-06-22","o":6720,"h":6730,"l":5950,"c":6050,"v":25},
{"d":"2018-06-23","o":6050,"h":6250,"l":6040,"c":6160,"v":10},
{"d":"2018-06-24","o":6160,"h":6250,"l":5780,"c":6150,"v":20},
{"d":"2018-06-25","o":6150,"h":6330,"l":6080,"c":6250,"v":12},
{"d":"2018-06-26","o":6250,"h":6280,"l":6060,"c":6080,"v":9},
{"d":"2018-06-27","o":6080,"h":6170,"l":6020,"c":6130,"v":9},
{"d":"2018-06-28","o":6130,"h":6160,"l":5850,"c":5860,"v":13},
{"d":"2018-06-29","o":5860,"h":6290,"l":5780,"c":6200,"v":17},
{"d":"2018-06-30","o":6200,"h":6520,"l":6200,"c":6390,"v":13},
{"d":"2018-07-01","o":6390,"h":6440,"l":6270,"c":6350,"v":8},
{"d":"2018-07-02","o":6350,"h":6670,"l":6270,"c":6620,"v":13},
{"d":"2018-07-03","o":6620,"h":6680,"l":6470,"c":6500,"v":11},
{"d":"2018-07-04","o":6500,"h":6780,"l":6460,"c":6600,"v":10},
{"d":"2018-07-05","o":6600,"h":6700,"l":6460,"c":6530,"v":10},
{"d":"2018-07-06","o":6530,"h":6620,"l":6460,"c":6600,"v":9},
{"d":"2018-07-07","o":6600,"h":6780,"l":6560,"c":6750,"v":7},
{"d":"2018-07-08","o":6750,"h":6800,"l":6690,"c":6700,"v":6},
{"d":"2018-07-09","o":6700,"h":6810,"l":6640,"c":6660,"v":9},
{"d":"2018-07-10","o":6660,"h":6680,"l":6300,"c":6300,"v":14},
{"d":"2018-07-11","o":6300,"h":6400,"l":6300,"c":6390,"v":10},
{"d":"2018-07-12","o":6390,"h":6390,"l":6080,"c":6250,"v":12},
{"d":"2018-07-13","o":6250,"h":6340,"l":6150,"c":6220,"v":10},
{"d":"2018-07-14","o":6220,"h":6320,"l":6200,"c":6260,"v":5},
{"d":"2018-07-15","o":6260,"h":6400,"l":6250,"c":6340,"v":6},
{"d":"2018-07-16","o":6340,"h":6760,"l":6330,"c":6730,"v":16},
{"d":"2018-07-17","o":6730,"h":7450,"l":6660,"c":7320,"v":26},
{"d":"2018-07-18","o":7320,"h":7560,"l":7250,"c":7380,"v":24},
{"d":"2018-07-19","o":7380,"h":7550,"l":7280,"c":7470,"v":15},
{"d":"2018-07-20","o":7470,"h":7680,"l":7300,"c":7330,"v":17},
{"d":"2018-07-21","o":7330,"h":7450,"l":7220,"c":7410,"v":8},
{"d":"2018-07-22","o":7410,"h":7570,"l":7380,"c":7400,"v":9},
{"d":"2018-07-23","o":7400,"h":7780,"l":7390,"c":7710,"v":16},
{"d":"2018-07-24","o":7710,"h":8480,"l":7700,"c":8400,"v":30},
{"d":"2018-07-25","o":8400,"h":8480,"l":8090,"c":8170,"v":19},
{"d":"2018-07-26","o":8170,"h":8300,"l":7860,"c":7930,"v":15},
{"d":"2018-07-27","o":7930,"h":8270,"l":7800,"c":8180,"v":15},
{"d":"2018-07-28","o":8180,"h":8230,"l":8080,"c":8220,"v":7},
{"d":"2018-07-29","o":8220,"h":8290,"l":8120,"c":8210,"v":6},
{"d":"2018-07-30","o":8210,"h":8270,"l":7870,"c":8170,"v":12},
{"d":"2018-07-31","o":8170,"h":8180,"l":7650,"c":7730,"v":17},
{"d":"2018-08-01","o":7730,"h":7760,"l":7470,"c":7620,"v":14},
{"d":"2018-08-02","o":7620,"h":7720,"l":7480,"c":7540,"v":11},
{"d":"2018-08-03","o":7540,"h":7550,"l":7300,"c":7420,"v":13},
{"d":"2018-08-04","o":7420,"h":7490,"l":6990,"c":7010,"v":12},
{"d":"2018-08-05","o":7010,"h":7090,"l":6890,"c":7030,"v":8},
{"d":"2018-08-06","o":7030,"h":7150,"l":6850,"c":6940,"v":10},
{"d":"2018-08-07","o":6940,"h":7150,"l":6700,"c":6720,"v":14},
{"d":"2018-08-08","o":6720,"h":6730,"l":6150,"c":6280,"v":20},
{"d":"2018-08-09","o":6280,"h":6630,"l":6230,"c":6540,"v":14},
{"d":"2018-08-10","o":6540,"h":6580,"l":6050,"c":6150,"v":16},
{"d":"2018-08-11","o":6150,"h":6470,"l":6020,"c":6240,"v":12},
{"d":"2018-08-12","o":6240,"h":6480,"l":6200,"c":6320,"v":9},
{"d":"2018-08-13","o":6320,"h":6540,"l":6200,"c":6260,"v":12},
{"d":"2018-08-14","o":6260,"h":6270,"l":5880,"c":6190,"v":20},
{"d":"2018-08-15","o":6190,"h":6620,"l":6180,"c":6280,"v":18},
{"d":"2018-08-16","o":6280,"h":6480,"l":6230,"c":6320,"v":12},
{"d":"2018-08-17","o":6320,"h":6600,"l":6300,"c":6580,"v":14},
{"d":"2018-08-18","o":6580,"h":6610,"l":6290,"c":6400,"v":9},
{"d":"2018-08-19","o":6400,"h":6540,"l":6310,"c":6490,"v":7},
{"d":"2018-08-20","o":6490,"h":6530,"l":6260,"c":6270,"v":9},
{"d":"2018-08-21","o":6270,"h":6500,"l":6260,"c":6480,"v":9},
{"d":"2018-08-22","o":6480,"h":6900,"l":6280,"c":6360,"v":17},
{"d":"2018-08-23","o":6360,"h":6560,"l":6350,"c":6530,"v":9},
{"d":"2018-08-24","o":6530,"h":6720,"l":6460,"c":6690,"v":10},
{"d":"2018-08-25","o":6690,"h":6790,"l":6660,"c":6740,"v":7},
{"d":"2018-08-26","o":6740,"h":6780,"l":6620,"c":6710,"v":6},
{"d":"2018-08-27","o":6710,"h":6940,"l":6680,"c":6910,"v":11},
{"d":"2018-08-28","o":6910,"h":7130,"l":6880,"c":7070,"v":13},
{"d":"2018-08-29","o":7070,"h":7140,"l":6990,"c":7030,"v":10},
{"d":"2018-08-30","o":7030,"h":7040,"l":6800,"c":6990,"v":11},
{"d":"2018-08-31","o":6990,"h":7100,"l":6920,"c":7030,"v":10},
{"d":"2018-09-01","o":7030,"h":7260,"l":7010,"c":7190,"v":9},
{"d":"2018-09-02","o":7190,"h":7350,"l":7160,"c":7280,"v":8},
{"d":"2018-09-03","o":7280,"h":7340,"l":7210,"c":7270,"v":8},
{"d":"2018-09-04","o":7270,"h":7410,"l":7250,"c":7370,"v":11},
{"d":"2018-09-05","o":7370,"h":7390,"l":6680,"c":6700,"v":24},
{"d":"2018-09-06","o":6700,"h":6740,"l":6290,"c":6520,"v":25},
{"d":"2018-09-07","o":6520,"h":6540,"l":6380,"c":6410,"v":12},
{"d":"2018-09-08","o":6410,"h":6480,"l":6160,"c":6190,"v":10},
{"d":"2018-09-09","o":6190,"h":6410,"l":6150,"c":6260,"v":8},
{"d":"2018-09-10","o":6260,"h":6370,"l":6250,"c":6300,"v":8},
{"d":"2018-09-11","o":6300,"h":6400,"l":6210,"c":6290,"v":9},
{"d":"2018-09-12","o":6290,"h":6350,"l":6210,"c":6330,"v":9},
{"d":"2018-09-13","o":6330,"h":6530,"l":6320,"c":6490,"v":10},
{"d":"2018-09-14","o":6490,"h":6590,"l":6420,"c":6490,"v":9},
{"d":"2018-09-15","o":6490,"h":6560,"l":6480,"c":6520,"v":5},
{"d":"2018-09-16","o":6520,"h":6530,"l":6440,"c":6500,"v":5},
{"d":"2018-09-17","o":6500,"h":6520,"l":6220,"c":6250,"v":12},
{"d":"2018-09-18","o":6250,"h":6390,"l":6240,"c":6340,"v":10},
{"d":"2018-09-19","o":6340,"h":6490,"l":6120,"c":6390,"v":13},
{"d":"2018-09-20","o":6390,"h":6540,"l":6370,"c":6490,"v":9},
{"d":"2018-09-21","o":6490,"h":6780,"l":6480,"c":6760,"v":15},
{"d":"2018-09-22","o":6760,"h":6830,"l":6690,"c":6720,"v":8},
{"d":"2018-09-23","o":6720,"h":6780,"l":6680,"c":6710,"v":6},
{"d":"2018-09-24","o":6710,"h":6740,"l":6580,"c":6590,"v":8},
{"d":"2018-09-25","o":6590,"h":6590,"l":6350,"c":6430,"v":10},
{"d":"2018-09-26","o":6430,"h":6540,"l":6410,"c":6460,"v":8},
{"d":"2018-09-27","o":6460,"h":6700,"l":6440,"c":6670,"v":9},
{"d":"2018-09-28","o":6670,"h":6790,"l":6560,"c":6640,"v":10},
{"d":"2018-09-29","o":6640,"h":6650,"l":6530,"c":6600,"v":6},
{"d":"2018-09-30","o":6600,"h":6640,"l":6560,"c":6630,"v":5},
{"d":"2018-10-01","o":6630,"h":6660,"l":6550,"c":6580,"v":6},
{"d":"2018-10-02","o":6580,"h":6620,"l":6500,"c":6520,"v":6},
{"d":"2018-10-03","o":6520,"h":6530,"l":6430,"c":6480,"v":6},
{"d":"2018-10-04","o":6480,"h":6600,"l":6470,"c":6570,"v":6},
{"d":"2018-10-05","o":6570,"h":6650,"l":6540,"c":6620,"v":6},
{"d":"2018-10-06","o":6620,"h":6630,"l":6570,"c":6590,"v":3},
{"d":"2018-10-07","o":6590,"h":6620,"l":6550,"c":6610,"v":3},
{"d":"2018-10-08","o":6610,"h":6700,"l":6600,"c":6660,"v":6},
{"d":"2018-10-09","o":6660,"h":6660,"l":6610,"c":6640,"v":5},
{"d":"2018-10-10","o":6640,"h":6650,"l":6530,"c":6600,"v":6},
{"d":"2018-10-11","o":6600,"h":6600,"l":6200,"c":6260,"v":16},
{"d":"2018-10-12","o":6260,"h":6330,"l":6230,"c":6310,"v":9},
{"d":"2018-10-13","o":6310,"h":6330,"l":6280,"c":6310,"v":4},
{"d":"2018-10-14","o":6310,"h":6380,"l":6290,"c":6300,"v":4},
{"d":"2018-10-15","o":6300,"h":6980,"l":6290,"c":6650,"v":22},
{"d":"2018-10-16","o":6650,"h":6680,"l":6450,"c":6480,"v":12},
{"d":"2018-10-17","o":6480,"h":6520,"l":6440,"c":6480,"v":7},
{"d":"2018-10-18","o":6480,"h":6510,"l":6380,"c":6420,"v":7},
{"d":"2018-10-19","o":6420,"h":6450,"l":6390,"c":6410,"v":5},
{"d":"2018-10-20","o":6410,"h":6440,"l":6390,"c":6420,"v":3},
{"d":"2018-10-21","o":6420,"h":6470,"l":6410,"c":6430,"v":3},
{"d":"2018-10-22","o":6430,"h":6450,"l":6400,"c":6420,"v":4},
{"d":"2018-10-23","o":6420,"h":6440,"l":6380,"c":6420,"v":4},
{"d":"2018-10-24","o":6420,"h":6480,"l":6410,"c":6450,"v":5},
{"d":"2018-10-25","o":6450,"h":6460,"l":6400,"c":6420,"v":4},
{"d":"2018-10-26","o":6420,"h":6450,"l":6400,"c":6430,"v":4},
{"d":"2018-10-27","o":6430,"h":6470,"l":6420,"c":6450,"v":3},
{"d":"2018-10-28","o":6450,"h":6460,"l":6430,"c":6450,"v":2},
{"d":"2018-10-29","o":6450,"h":6460,"l":6230,"c":6290,"v":8},
{"d":"2018-10-30","o":6290,"h":6310,"l":6270,"c":6300,"v":5},
{"d":"2018-10-31","o":6300,"h":6340,"l":6250,"c":6300,"v":6},
{"d":"2018-11-01","o":6300,"h":6380,"l":6290,"c":6360,"v":5},
{"d":"2018-11-02","o":6360,"h":6420,"l":6350,"c":6390,"v":5},
{"d":"2018-11-03","o":6390,"h":6400,"l":6340,"c":6370,"v":3},
{"d":"2018-11-04","o":6370,"h":6500,"l":6340,"c":6480,"v":5},
{"d":"2018-11-05","o":6480,"h":6490,"l":6410,"c":6440,"v":5},
{"d":"2018-11-06","o":6440,"h":6490,"l":6420,"c":6480,"v":5},
{"d":"2018-11-07","o":6480,"h":6590,"l":6470,"c":6560,"v":7},
{"d":"2018-11-08","o":6560,"h":6560,"l":6420,"c":6440,"v":6},
{"d":"2018-11-09","o":6440,"h":6450,"l":6340,"c":6370,"v":6},
{"d":"2018-11-10","o":6370,"h":6420,"l":6370,"c":6410,"v":3},
{"d":"2018-11-11","o":6410,"h":6420,"l":6330,"c":6380,"v":3},
{"d":"2018-11-12","o":6380,"h":6400,"l":6340,"c":6360,"v":4},
{"d":"2018-11-13","o":6360,"h":6370,"l":6270,"c":6300,"v":5},
{"d":"2018-11-14","o":6300,"h":6330,"l":5350,"c":5620,"v":28},
{"d":"2018-11-15","o":5620,"h":5680,"l":5200,"c":5590,"v":30},
{"d":"2018-11-16","o":5590,"h":5600,"l":5460,"c":5520,"v":12},
{"d":"2018-11-17","o":5520,"h":5540,"l":5450,"c":5500,"v":6},
{"d":"2018-11-18","o":5500,"h":5650,"l":5480,"c":5570,"v":6},
{"d":"2018-11-19","o":5570,"h":5570,"l":4750,"c":4800,"v":30},
{"d":"2018-11-20","o":4800,"h":4900,"l":4100,"c":4460,"v":37},
{"d":"2018-11-21","o":4460,"h":4680,"l":4350,"c":4560,"v":23},
{"d":"2018-11-22","o":4560,"h":4620,"l":4260,"c":4270,"v":15},
{"d":"2018-11-23","o":4270,"h":4350,"l":4050,"c":4290,"v":18},
{"d":"2018-11-24","o":4290,"h":4420,"l":3840,"c":3870,"v":17},
{"d":"2018-11-25","o":3870,"h":4100,"l":3500,"c":4000,"v":31},
{"d":"2018-11-26","o":4000,"h":4120,"l":3690,"c":3770,"v":25},
{"d":"2018-11-27","o":3770,"h":3880,"l":3630,"c":3830,"v":20},
{"d":"2018-11-28","o":3830,"h":4380,"l":3800,"c":4250,"v":28},
{"d":"2018-11-29","o":4250,"h":4410,"l":4080,"c":4250,"v":18},
{"d":"2018-11-30","o":4250,"h":4290,"l":3900,"c":3980,"v":14},
{"d":"2018-12-01","o":3980,"h":4230,"l":3960,"c":4170,"v":10},
{"d":"2018-12-02","o":4170,"h":4300,"l":4070,"c":4130,"v":10},
{"d":"2018-12-03","o":4130,"h":4140,"l":3790,"c":3830,"v":13},
{"d":"2018-12-04","o":3830,"h":4060,"l":3780,"c":3950,"v":13},
{"d":"2018-12-05","o":3950,"h":3960,"l":3730,"c":3760,"v":12},
{"d":"2018-12-06","o":3760,"h":3880,"l":3480,"c":3500,"v":20},
{"d":"2018-12-07","o":3500,"h":3550,"l":3230,"c":3390,"v":27},
{"d":"2018-12-08","o":3390,"h":3500,"l":3300,"c":3420,"v":13},
{"d":"2018-12-09","o":3420,"h":3650,"l":3400,"c":3570,"v":10},
{"d":"2018-12-10","o":3570,"h":3600,"l":3430,"c":3470,"v":10},
{"d":"2018-12-11","o":3470,"h":3490,"l":3370,"c":3400,"v":9},
{"d":"2018-12-12","o":3400,"h":3520,"l":3390,"c":3480,"v":10},
{"d":"2018-12-13","o":3480,"h":3480,"l":3250,"c":3270,"v":12},
{"d":"2018-12-14","o":3270,"h":3290,"l":3180,"c":3210,"v":12},
{"d":"2018-12-15","o":3210,"h":3240,"l":3150,"c":3190,"v":8},
{"d":"2018-12-16","o":3190,"h":3270,"l":3190,"c":3220,"v":6},
{"d":"2018-12-17","o":3220,"h":3590,"l":3210,"c":3510,"v":17},
{"d":"2018-12-18","o":3510,"h":3680,"l":3450,"c":3660,"v":17},
{"d":"2018-12-19","o":3660,"h":3930,"l":3650,"c":3800,"v":22},
{"d":"2018-12-20","o":3800,"h":4150,"l":3770,"c":4110,"v":28},
{"d":"2018-12-21","o":4110,"h":4130,"l":3800,"c":3870,"v":18},
{"d":"2018-12-22","o":3870,"h":3980,"l":3820,"c":3950,"v":9},
{"d":"2018-12-23","o":3950,"h":4010,"l":3900,"c":3940,"v":8},
{"d":"2018-12-24","o":3940,"h":4230,"l":3940,"c":4020,"v":17},
{"d":"2018-12-25","o":4020,"h":4020,"l":3680,"c":3750,"v":14},
{"d":"2018-12-26","o":3750,"h":3850,"l":3700,"c":3790,"v":10},
{"d":"2018-12-27","o":3790,"h":3820,"l":3560,"c":3570,"v":12},
{"d":"2018-12-28","o":3570,"h":3880,"l":3560,"c":3840,"v":14},
{"d":"2018-12-29","o":3840,"h":3910,"l":3700,"c":3720,"v":9},
{"d":"2018-12-30","o":3720,"h":3850,"l":3700,"c":3830,"v":8},
{"d":"2018-12-31","o":3830,"h":3840,"l":3650,"c":3690,"v":8},
{"d":"2019-01-01","o":3690,"h":3830,"l":3680,"c":3820,"v":6},
{"d":"2019-01-02","o":3820,"h":3910,"l":3780,"c":3880,"v":9},
{"d":"2019-01-03","o":3880,"h":3880,"l":3750,"c":3780,"v":8},
{"d":"2019-01-04","o":3780,"h":3820,"l":3730,"c":3800,"v":8},
{"d":"2019-01-05","o":3800,"h":3860,"l":3780,"c":3780,"v":6},
{"d":"2019-01-06","o":3780,"h":4090,"l":3760,"c":4050,"v":12},
{"d":"2019-01-07","o":4050,"h":4070,"l":3970,"c":3990,"v":10},
{"d":"2019-01-08","o":3990,"h":4100,"l":3950,"c":3990,"v":12},
{"d":"2019-01-09","o":3990,"h":4040,"l":3970,"c":4000,"v":9},
{"d":"2019-01-10","o":4000,"h":4030,"l":3560,"c":3630,"v":20},
{"d":"2019-01-11","o":3630,"h":3680,"l":3560,"c":3630,"v":11},
{"d":"2019-01-12","o":3630,"h":3640,"l":3560,"c":3600,"v":6},
{"d":"2019-01-13","o":3600,"h":3620,"l":3480,"c":3500,"v":7},
{"d":"2019-01-14","o":3500,"h":3700,"l":3500,"c":3660,"v":10},
{"d":"2019-01-15","o":3660,"h":3680,"l":3550,"c":3580,"v":9},
{"d":"2019-01-16","o":3580,"h":3660,"l":3570,"c":3600,"v":8},
{"d":"2019-01-17","o":3600,"h":3650,"l":3560,"c":3630,"v":8},
{"d":"2019-01-18","o":3630,"h":3640,"l":3560,"c":3590,"v":7},
{"d":"2019-01-19","o":3590,"h":3730,"l":3590,"c":3680,"v":7},
{"d":"2019-01-20","o":3680,"h":3700,"l":3500,"c":3540,"v":8},
{"d":"2019-01-21","o":3540,"h":3570,"l":3500,"c":3550,"v":6},
{"d":"2019-01-22","o":3550,"h":3620,"l":3480,"c":3580,"v":8},
{"d":"2019-01-23","o":3580,"h":3610,"l":3540,"c":3560,"v":7},
{"d":"2019-01-24","o":3560,"h":3600,"l":3540,"c":3580,"v":6},
{"d":"2019-01-25","o":3580,"h":3590,"l":3540,"c":3570,"v":6},
{"d":"2019-01-26","o":3570,"h":3660,"l":3550,"c":3560,"v":5},
{"d":"2019-01-27","o":3560,"h":3580,"l":3500,"c":3530,"v":5},
{"d":"2019-01-28","o":3530,"h":3530,"l":3390,"c":3420,"v":11},
{"d":"2019-01-29","o":3420,"h":3440,"l":3380,"c":3400,"v":8},
{"d":"2019-01-30","o":3400,"h":3490,"l":3390,"c":3460,"v":8},
{"d":"2019-01-31","o":3460,"h":3480,"l":3430,"c":3440,"v":7},
{"d":"2019-02-01","o":3440,"h":3480,"l":3430,"c":3460,"v":6},
{"d":"2019-02-02","o":3460,"h":3510,"l":3450,"c":3500,"v":4},
{"d":"2019-02-03","o":3500,"h":3500,"l":3400,"c":3420,"v":5},
{"d":"2019-02-04","o":3420,"h":3440,"l":3410,"c":3430,"v":5},
{"d":"2019-02-05","o":3430,"h":3470,"l":3420,"c":3450,"v":5},
{"d":"2019-02-06","o":3450,"h":3460,"l":3390,"c":3400,"v":7},
{"d":"2019-02-07","o":3400,"h":3420,"l":3380,"c":3390,"v":5},
{"d":"2019-02-08","o":3390,"h":3700,"l":3380,"c":3630,"v":17},
{"d":"2019-02-09","o":3630,"h":3650,"l":3600,"c":3620,"v":6},
{"d":"2019-02-10","o":3620,"h":3670,"l":3590,"c":3660,"v":6},
{"d":"2019-02-11","o":3660,"h":3660,"l":3590,"c":3600,"v":7},
{"d":"2019-02-12","o":3600,"h":3630,"l":3560,"c":3610,"v":8},
{"d":"2019-02-13","o":3610,"h":3640,"l":3570,"c":3590,"v":7},
{"d":"2019-02-14","o":3590,"h":3600,"l":3550,"c":3570,"v":6},
{"d":"2019-02-15","o":3570,"h":3620,"l":3560,"c":3580,"v":6},
{"d":"2019-02-16","o":3580,"h":3630,"l":3580,"c":3600,"v":4},
{"d":"2019-02-17","o":3600,"h":3680,"l":3590,"c":3650,"v":6},
{"d":"2019-02-18","o":3650,"h":3920,"l":3640,"c":3880,"v":18},
{"d":"2019-02-19","o":3880,"h":4000,"l":3850,"c":3890,"v":16},
{"d":"2019-02-20","o":3890,"h":3960,"l":3870,"c":3950,"v":11},
{"d":"2019-02-21","o":3950,"h":3990,"l":3900,"c":3920,"v":10},
{"d":"2019-02-22","o":3920,"h":3980,"l":3910,"c":3970,"v":7},
{"d":"2019-02-23","o":3970,"h":4150,"l":3960,"c":4120,"v":10},
{"d":"2019-02-24","o":4120,"h":4200,"l":3700,"c":3740,"v":22},
{"d":"2019-02-25","o":3740,"h":3860,"l":3720,"c":3820,"v":12},
{"d":"2019-02-26","o":3820,"h":3820,"l":3760,"c":3790,"v":8},
{"d":"2019-02-27","o":3790,"h":3830,"l":3670,"c":3800,"v":10},
{"d":"2019-02-28","o":3800,"h":3880,"l":3780,"c":3800,"v":9},
{"d":"2019-03-01","o":3800,"h":3850,"l":3800,"c":3810,"v":7},
{"d":"2019-03-02","o":3810,"h":3830,"l":3780,"c":3820,"v":5},
{"d":"2019-03-03","o":3820,"h":3830,"l":3770,"c":3780,"v":5},
{"d":"2019-03-04","o":3780,"h":3790,"l":3680,"c":3700,"v":10},
{"d":"2019-03-05","o":3700,"h":3870,"l":3690,"c":3850,"v":11},
{"d":"2019-03-06","o":3850,"h":3890,"l":3820,"c":3860,"v":8},
{"d":"2019-03-07","o":3860,"h":3900,"l":3840,"c":3870,"v":7},
{"d":"2019-03-08","o":3870,"h":3940,"l":3810,"c":3860,"v":9},
{"d":"2019-03-09","o":3860,"h":3950,"l":3850,"c":3930,"v":6},
{"d":"2019-03-10","o":3930,"h":3930,"l":3870,"c":3910,"v":5},
{"d":"2019-03-11","o":3910,"h":3920,"l":3840,"c":3860,"v":7},
{"d":"2019-03-12","o":3860,"h":3900,"l":3820,"c":3880,"v":7},
{"d":"2019-03-13","o":3880,"h":3890,"l":3840,"c":3860,"v":6},
{"d":"2019-03-14","o":3860,"h":3920,"l":3820,"c":3860,"v":7},
{"d":"2019-03-15","o":3860,"h":3930,"l":3860,"c":3910,"v":7},
{"d":"2019-03-16","o":3910,"h":4060,"l":3900,"c":4000,"v":10},
{"d":"2019-03-17","o":4000,"h":4010,"l":3960,"c":3980,"v":5},
{"d":"2019-03-18","o":3980,"h":4030,"l":3950,"c":3970,"v":7},
{"d":"2019-03-19","o":3970,"h":4040,"l":3960,"c":4020,"v":8},
{"d":"2019-03-20","o":4020,"h":4080,"l":4000,"c":4050,"v":8},
{"d":"2019-03-21","o":4050,"h":4070,"l":3950,"c":3970,"v":9},
{"d":"2019-03-22","o":3970,"h":4000,"l":3960,"c":3990,"v":6},
{"d":"2019-03-23","o":3990,"h":4010,"l":3970,"c":3990,"v":4},
{"d":"2019-03-24","o":3990,"h":3990,"l":3950,"c":3980,"v":4},
{"d":"2019-03-25","o":3980,"h":3990,"l":3880,"c":3900,"v":8},
{"d":"2019-03-26","o":3900,"h":3940,"l":3890,"c":3923,"v":4.316}
]},
"data":{"name":"btc"},
"resolve":{"scale":{"y":"independent"}},
"layer":[
{"mark":{"type":"bar","size":1.1,"opacity":0.42},
 "encoding":{
  "x":{"field":"d","type":"temporal","scale":{"type":"utc","nice":false,"domain":[{"year":2016,"month":11,"date":21,"hours":14,"minutes":38,"utc":true},{"year":2019,"month":3,"date":28,"hours":12,"utc":true}]},
       "axis":{"title":null,"grid":true,"tickCount":{"interval":"month","step":1},"labelPadding":3,"labelFlush":false,"labelOverlap":false,
               "labelExpr":"utcmonth(datum.value)==0 ? utcFormat(datum.value,'%Y') : (utcmonth(datum.value)==2 ? '2' : utcFormat(datum.value,'%b'))"}},
  "y":{"field":"v","type":"quantitative","scale":{"domain":[0,270],"nice":false,"zero":true},"axis":null},
  "color":{"condition":{"test":"datum.c >= datum.o","value":"#26a69a"},"value":"#ef5350"}}},
{"layer":[
 {"mark":{"type":"rule","strokeWidth":0.8},
  "encoding":{
   "x":{"field":"d","type":"temporal","scale":{"type":"utc"}},
   "y":{"field":"l","type":"quantitative","scale":{"domain":[-1254,21951],"nice":false,"zero":false},
        "axis":{"title":null,"orient":"right","grid":true,"values":[0,2000,4000,6000,8000,10000,12000,14000,16000,18000,20000],"tickCount":11,"labelOverlap":false,"format":"d","labelPadding":5,"labelExpr":"datum.value==4000 ? '' : datum.label"}},
   "y2":{"field":"h"},
   "color":{"condition":{"test":"datum.c >= datum.o","value":"#26a69a"},"value":"#ef5350"}}},
 {"mark":{"type":"bar","size":1.3},
  "encoding":{
   "x":{"field":"d","type":"temporal","scale":{"type":"utc"}},
   "y":{"field":"o","type":"quantitative"},
   "y2":{"field":"c"},
   "color":{"condition":{"test":"datum.c >= datum.o","value":"#26a69a"},"value":"#ef5350"}}},
 {"data":{"values":[{}]},"mark":{"type":"rect","filled":false,"color":"#e0e3eb","strokeWidth":1},
  "encoding":{
   "x":{"datum":{"year":2016,"month":11,"date":21,"hours":14,"minutes":38,"utc":true},"type":"temporal","scale":{"type":"utc"}},
   "x2":{"datum":{"year":2019,"month":4,"date":20,"hours":14,"utc":true}},
   "y":{"datum":-2439,"type":"quantitative"},
   "y2":{"datum":21951}}},
 {"data":{"values":[{}]},"mark":{"type":"text","align":"left","baseline":"middle","fontSize":7.2,"color":"#4a4d57"},
  "encoding":{"x":{"datum":{"year":2016,"month":11,"date":22,"hours":18,"utc":true},"type":"temporal","scale":{"type":"utc"}},"y":{"datum":22509,"type":"quantitative"},"text":{"value":"Published on TradingView.com, Aug 02, 2023 16:05 UTC"}}},
 {"data":{"values":[{}]},"mark":{"type":"text","align":"left","baseline":"middle","fontSize":7.2,"color":"#3b3f4a"},
  "encoding":{"x":{"datum":{"year":2016,"month":11,"date":25,"hours":15,"utc":true},"type":"temporal","scale":{"type":"utc"}},"y":{"datum":21254,"type":"quantitative"},"text":{"value":"Bitcoin / U.S. Dollar, 1D, BITSTAMP"}}},
 {"data":{"values":[{}]},"mark":{"type":"text","align":"left","baseline":"middle","fontSize":7.2,"color":"#e0575a"},
  "encoding":{"x":{"datum":{"year":2017,"month":2,"date":3,"hours":11,"utc":true},"type":"temporal","scale":{"type":"utc"}},"y":{"datum":21254,"type":"quantitative"},"text":{"value":"O29697  H30025  L29164  C29302  −394 (−1.33%)"}}},
 {"data":{"values":[{}]},"mark":{"type":"text","align":"left","baseline":"middle","fontSize":7.2,"color":"#3b3f4a"},
  "encoding":{"x":{"datum":{"year":2016,"month":11,"date":25,"hours":15,"utc":true},"type":"temporal","scale":{"type":"utc"}},"y":{"datum":20453,"type":"quantitative"},"text":{"value":"Vol · BTC"}}},
 {"data":{"values":[{}]},"mark":{"type":"text","align":"left","baseline":"middle","fontSize":7.2,"color":"#e0575a"},
  "encoding":{"x":{"datum":{"year":2016,"month":12,"date":15,"hours":20,"utc":true},"type":"temporal","scale":{"type":"utc"}},"y":{"datum":20453,"type":"quantitative"},"text":{"value":"1.401K"}}},
 {"data":{"values":[{}]},"mark":{"type":"rect","fill":"#ffffff","stroke":"#e0e3eb","strokeWidth":1,"cornerRadius":2},
  "encoding":{"x":{"datum":{"year":2019,"month":3,"date":31,"utc":true},"type":"temporal","scale":{"type":"utc"}},"x2":{"datum":{"year":2019,"month":4,"date":19,"hours":14,"utc":true}},"y":{"datum":21742,"type":"quantitative"},"y2":{"datum":20815}}},
 {"data":{"values":[{}]},"mark":{"type":"text","align":"center","baseline":"middle","fontSize":7.5,"color":"#3b3f4a"},
  "encoding":{"x":{"datum":{"year":2019,"month":4,"date":9,"hours":19,"utc":true},"type":"temporal","scale":{"type":"utc"}},"y":{"datum":21275,"type":"quantitative"},"text":{"value":"USD"}}},
 {"data":{"values":[{}]},"mark":{"type":"rect","fill":"#ffffff","stroke":"#26a69a","strokeWidth":1,"cornerRadius":2},
  "encoding":{"x":{"datum":{"year":2019,"month":3,"date":29,"hours":22,"utc":true},"type":"temporal","scale":{"type":"utc"}},"x2":{"datum":{"year":2019,"month":4,"date":13,"utc":true}},"y":{"datum":4251,"type":"quantitative"},"y2":{"datum":3554}}},
 {"data":{"values":[{}]},"mark":{"type":"text","align":"center","baseline":"middle","fontSize":8,"color":"#26a69a"},
  "encoding":{"x":{"datum":{"year":2019,"month":4,"date":5,"hours":22,"utc":true},"type":"temporal","scale":{"type":"utc"}},"y":{"datum":3923,"type":"quantitative"},"text":{"value":"3923"}}},
 {"data":{"values":[{}]},"mark":{"type":"rect","fill":"#ffffff","stroke":"#26a69a","strokeWidth":1,"cornerRadius":2},
  "encoding":{"x":{"datum":{"year":2019,"month":3,"date":30,"utc":true},"type":"temporal","scale":{"type":"utc"}},"x2":{"datum":{"year":2019,"month":4,"date":16,"hours":7,"utc":true}},"y":{"datum":-509,"type":"quantitative"},"y2":{"datum":-1136}}},
 {"data":{"values":[{}]},"mark":{"type":"text","align":"center","baseline":"middle","fontSize":8,"color":"#26a69a"},
  "encoding":{"x":{"datum":{"year":2019,"month":4,"date":7,"hours":17,"utc":true},"type":"temporal","scale":{"type":"utc"}},"y":{"datum":-822,"type":"quantitative"},"text":{"value":"4.316K"}}},
 {"data":{"values":[{}]},"mark":{"type":"text","align":"left","baseline":"middle","fontSize":9,"fontWeight":900,"color":"#131722"},
  "encoding":{"x":{"datum":{"year":2016,"month":11,"date":22,"hours":18,"utc":true},"type":"temporal","scale":{"type":"utc"}},"y":{"datum":-3206,"type":"quantitative"},"text":{"value":"TV"}}},
 {"data":{"values":[{}]},"mark":{"type":"text","align":"left","baseline":"middle","fontSize":8.5,"color":"#2a2e39"},
  "encoding":{"x":{"datum":{"year":2016,"month":11,"date":30,"hours":20,"utc":true},"type":"temporal","scale":{"type":"utc"}},"y":{"datum":-3206,"type":"quantitative"},"text":{"value":"TradingView"}}}
]}
]
}
